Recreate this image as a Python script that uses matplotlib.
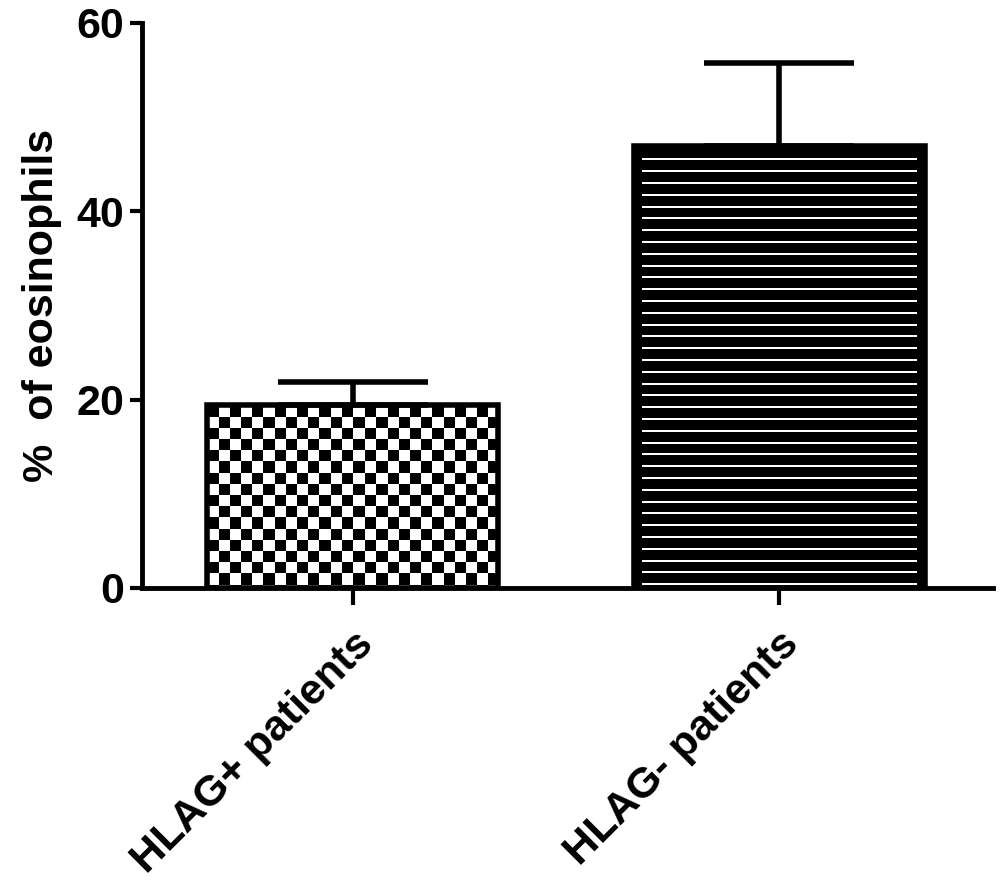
'''
bar chart of eosinophil percentage in HLAG+ / HLAG- patients
'''
import numpy as np
import matplotlib
matplotlib.use('Agg')
import matplotlib.pyplot as plt
from matplotlib.transforms import ScaledTranslation

plt.rcParams['font.family'] = ['Liberation Sans', 'DejaVu Sans']
plt.rcParams['font.weight'] = 'bold'

# data
groups = ['HLAG+ patients', 'HLAG- patients']
means = [19.4, 46.9]
sem = [2.5, 8.9]
y_ticks = [0, 20, 40, 60]

fig = plt.figure(figsize=(10.05, 8.83), dpi=100)
ax = fig.add_axes([0.1413, 0.3341, 0.8468, 0.6399])

x = np.arange(len(groups))
ax.set_xlim(-0.495, 1.502)
ax.set_ylim(0, 60)

bars = ax.bar(x, means, width=0.683, facecolor='none', edgecolor='black',
              linewidth=4, zorder=3)
ax.errorbar(x, means, yerr=[np.zeros(len(means)), sem], fmt='none',
            ecolor='black', elinewidth=4, capsize=54, capthick=4, zorder=2)


def pattern_fill(bar, kind):
    # pixel sized pattern image clipped to the bar
    fig.canvas.draw()
    bb = bar.get_window_extent()
    w, h = int(round(bb.width)), int(round(bb.height))
    yy, xx = np.mgrid[0:h, 0:w]
    if kind == 'check':
        cell = 11.2
        img = ((xx // cell + yy // cell) % 2).astype(float)
    else:
        img = np.zeros((h, w))
        img[(yy % 11.8) < 2.0] = 1.0
        img[:, :8] = 0
        img[:, w - 9:] = 0
    x0, y0 = bar.get_x(), bar.get_y()
    im = ax.imshow(img, cmap='gray', vmin=0, vmax=1, interpolation='nearest',
                   extent=[x0, x0 + bar.get_width(), y0, y0 + bar.get_height()],
                   origin='upper', aspect='auto', zorder=1)
    im.set_clip_path(bar)


pattern_fill(bars[0], 'check')
pattern_fill(bars[1], 'stripe')
ax.set_xlim(-0.495, 1.502)
ax.set_ylim(0, 60)

ax.spines['top'].set_visible(False)
ax.spines['right'].set_visible(False)
ax.spines['left'].set_linewidth(3.5)
ax.spines['bottom'].set_linewidth(3.5)

ax.set_yticks(y_ticks)
ax.set_yticklabels([str(t) for t in y_ticks], fontsize=31, fontweight='bold')
ax.tick_params(axis='y', length=9, width=3, pad=4)
ax.set_xticks(x)
ax.set_xticklabels(groups, fontsize=31, fontweight='bold', rotation=45,
                   ha='right', va='center', rotation_mode='anchor')
ax.tick_params(axis='x', length=12, width=3, pad=24)
shift = ScaledTranslation(10 / 72, 0, fig.dpi_scale_trans)
for lab in ax.get_xticklabels():
    lab.set_transform(lab.get_transform() + shift)
ax.set_ylabel('%  of eosinophils', fontsize=31, fontweight='bold', labelpad=10)

fig.savefig('out.png', dpi=100)
